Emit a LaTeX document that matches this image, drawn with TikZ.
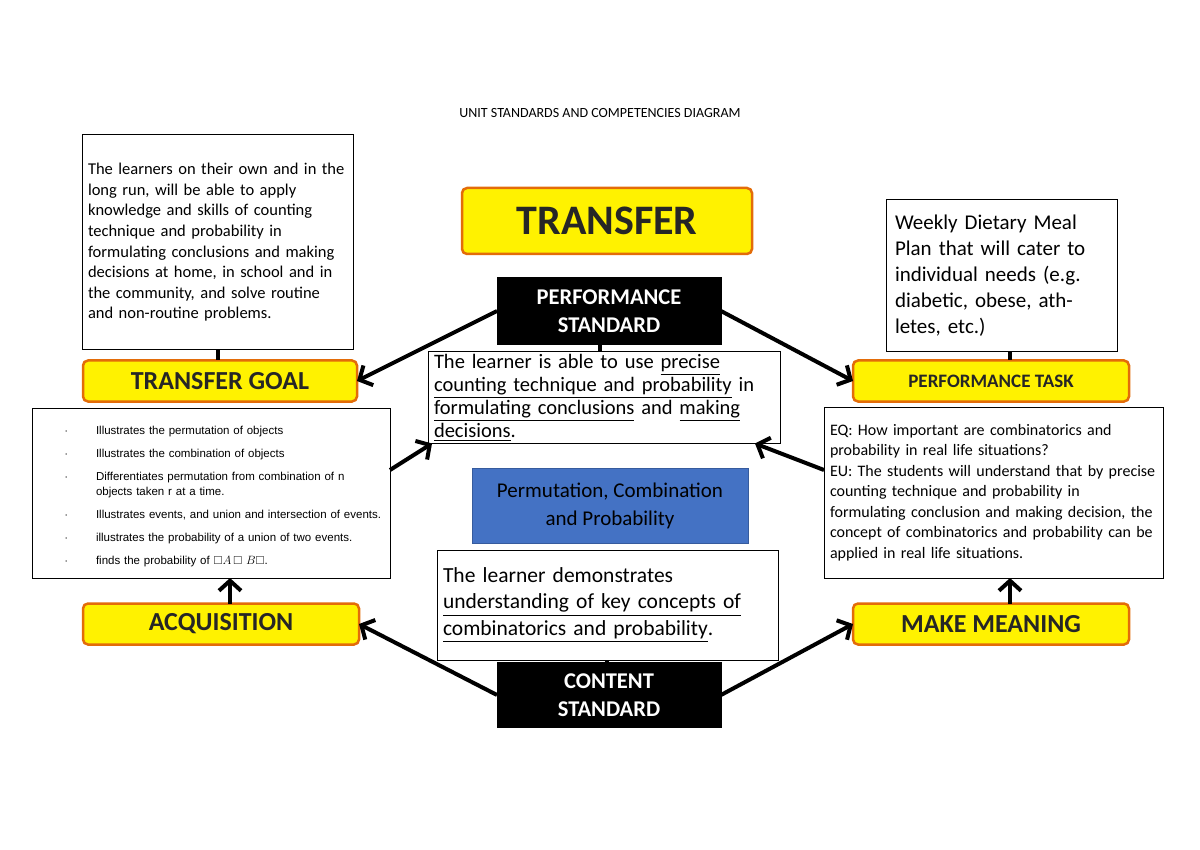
\documentclass[tikz,border=0pt]{standalone}
\usepackage{fontspec}
\setmainfont{Carlito}
\newfontfamily\arialfont{Liberation Sans}
\usepackage{amssymb}
\usetikzlibrary{positioning,arrows}
\usetikzlibrary{shapes}
\usetikzlibrary{arrows.meta}
\usepackage{xcolor}
\definecolor{blockblue}{HTML}{4472C4}
\definecolor{goldline}{HTML}{E36C09}
\begin{document}
\begin{tikzpicture}[x=1pt,y=-1pt]
  \useasboundingbox (0,0) rectangle (1200,850);
  \tikzstyle{every node}=[inner sep=0pt, outer sep=0pt]
  \tikzstyle{gold}=[draw=goldline, line width=2.5pt, rounded corners=5pt, fill=yellow, font=\bfseries\color{black!85}]
  \tikzstyle{blackbox}=[fill=black, draw=black, align=center, text=white, font=\bfseries\fontsize{22.5}{28}\selectfont]
  \tikzstyle{textbox}=[draw=black, line width=1pt, fill=white, align=left, anchor=north west, inner sep=6pt]
  \tikzstyle{arr}=[line width=4pt, -{Straight Barb[length=10pt,width=22pt,line width=4pt]}]
  \tikzstyle{tie}=[line width=4pt]
  \draw (600,113) node (title) {\fontsize{14}{16}\selectfont UNIT STANDARDS AND COMPETENCIES DIAGRAM};
  % yellow headings
  \draw (607,221) node (transfer) [gold, minimum width=290, minimum height=66] {\fontsize{42}{44}\selectfont TRANSFER};
  \draw (220,381) node (transfer_goal) [gold, minimum width=274, minimum height=41] {\fontsize{26}{28}\selectfont TRANSFER GOAL};
  \draw (991,381) node (performance_task) [gold, minimum width=276, minimum height=41] {\fontsize{19}{21}\selectfont PERFORMANCE TASK};
  \draw (221,624) node (acquisition) [gold, minimum width=276, minimum height=41] {\fontsize{26}{28}\selectfont ACQUISITION};
  \draw (991,624) node (make_meaning) [gold, minimum width=276, minimum height=41] {\fontsize{26}{28}\selectfont MAKE MEANING};
  % black standards
  \draw (609,311) node (perf_std) [blackbox, minimum width=224, minimum height=67] {PERFORMANCE\\STANDARD};
  \draw (609,695) node (content_std) [blackbox, minimum width=224, minimum height=65] {CONTENT\\STANDARD};
  % text boxes
  \draw (82,135) node (goal_text) [textbox, text width=259, minimum height=215, inner ysep=4pt, font=\fontsize{16.5}{20.6}\selectfont] {\raggedright The learners on their own and in the long run, will be able to apply knowledge and skills of counting technique and probability in formulating conclusions and making decisions at home, in school and in the community, and solve routine and non-routine problems.\par\vspace{60pt}};
  \draw (886,200) node (task_text) [textbox, text width=213, minimum height=152, inner xsep=9pt, inner ysep=3pt, font=\fontsize{21}{26}\selectfont] {\raggedright Weekly Dietary Meal Plan that will cater to individual needs (e.g. diabetic, obese, athletes, etc.)};
  \draw (428,352) node (perf_text) [textbox, text width=340, minimum height=88, inner ysep=2pt, font=\fontsize{20.5}{23}\selectfont] {\raggedright The learner is able to use \underline{precise} \underline{counting technique and probability} in \underline{formulating conclusions} and \underline{making} \underline{decisions}.};
  \draw (32,408) node (acq_text) [textbox, text width=346, minimum height=170, inner ysep=8pt, font=\arialfont\fontsize{11.5}{15}\selectfont] {%
    \begin{list}{$\cdot$}{\leftmargin=58pt\labelsep=28pt\itemsep=8pt\parsep=0pt\topsep=0pt}
    \item Illustrates the permutation of objects
    \item Illustrates the combination of objects
    \item Differentiates permutation from combination of n objects taken r at a time.
    \item Illustrates events, and union and intersection of events.
    \item illustrates the probability of a union of two events.
    \item finds the probability of $\square A\,\square\ B\square$.
    \end{list}};
  \draw (824,407) node (meaning_text) [textbox, text width=327, minimum height=171, inner xsep=6pt, inner ysep=5pt, font=\fontsize{16}{20.5}\selectfont] {\raggedright EQ: How important are combinatorics and probability in real life situations?\\EU: The students will understand that by precise counting technique and probability in formulating conclusion and making decision, the concept of combinatorics and probability can be applied in real life situations.\par\vspace{20pt}};
  \draw (610,506) node (topic) [fill=blockblue, draw=blockblue!80!black, minimum width=276, minimum height=75, align=center, font=\fontsize{21}{28}\selectfont] {Permutation, Combination\\and Probability};
  \draw (437,550) node (content_text) [textbox, text width=329, minimum height=110, inner ysep=5pt, font=\fontsize{21.5}{26.5}\selectfont] {\raggedright The learner demonstrates \underline{understanding of key concepts of} \underline{combinatorics and probability}.};
  % ties
  \draw [tie] (goal_text.south -| 218,0) -- (transfer_goal.north -| 218,0);
  \draw [tie] (task_text.south -| 1010,0) -- (performance_task.north -| 1010,0);
  \draw [tie] (perf_std.south -| 600,0) -- (perf_text.north -| 600,0);
  \draw [tie] (content_text.south -| 607,0) -- (content_std.north -| 607,0);
  % arrows
  \draw [arr] (perf_std.west) -- (transfer_goal.east);
  \draw [arr] (perf_std.east) -- (performance_task.west);
  \draw [arr] (content_std.west) -- (acquisition.east);
  \draw [arr] (content_std.east) -- (make_meaning.west);
  \draw [arr] (acq_text.east |- 0,470) -- (perf_text.south west -| 432,0);
  \draw [arr] (meaning_text.west |- 0,470) -- (perf_text.south east -| 755,0);
  \draw [arr] (acquisition.north -| 230,0) -- (acq_text.south -| 230,0);
  \draw [arr] (make_meaning.north -| 1010,0) -- (meaning_text.south -| 1010,0);
\end{tikzpicture}
\end{document}
